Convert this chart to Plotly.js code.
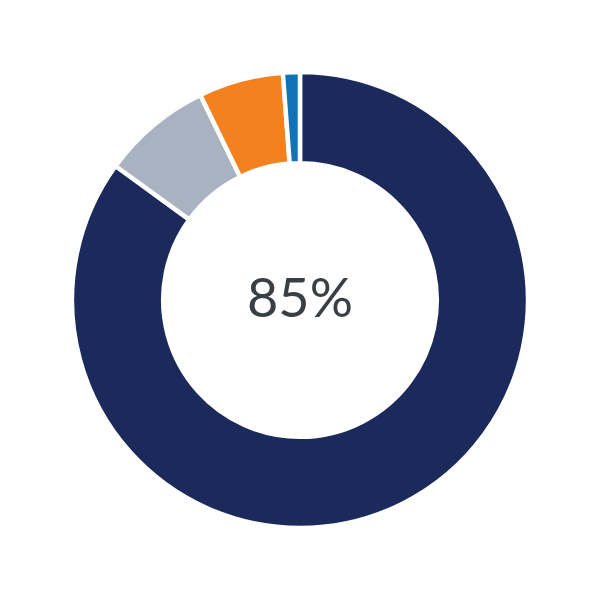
<!DOCTYPE html>
<html>
<head>
<meta charset="utf-8">
<script src="https://cdn.plot.ly/plotly-3.0.1.min.js"></script>
<style>html,body{margin:0;padding:0;background:#fff;}#chart{width:600px;height:600px;}</style>
</head>
<body>
<div id="chart"></div>
<script>
const labels = ["Navy", "Gray", "Orange", "Blue"];
const values = [85, 7.8, 6, 1.2];
const colors = ["#1b2a5a", "#a8b2c1", "#f38120", "#1172b6"];
const centerText = "85%";

Plotly.newPlot("chart", [{
  type: "pie",
  labels: labels,
  values: values,
  hole: 0.6,
  sort: false,
  direction: "clockwise",
  rotation: 0,
  textinfo: "none",
  hoverinfo: "none",
  marker: {colors: colors, line: {color: "#ffffff", width: 4.5}},
  domain: {x: [0.12, 0.88], y: [0.12, 0.88]}
}], {
  width: 600, height: 600,
  margin: {l: 0, r: 0, t: 0, b: 0},
  showlegend: false,
  paper_bgcolor: "#ffffff",
  annotations: [{
    text: centerText, x: 0.5, y: 0.5, xref: "paper", yref: "paper",
    showarrow: false, yshift: 4,
    font: {family: "Lato", size: 54, color: "#3a3f45"}
  }]
}, {displayModeBar: false, staticPlot: true});
</script>
</body>
</html>
